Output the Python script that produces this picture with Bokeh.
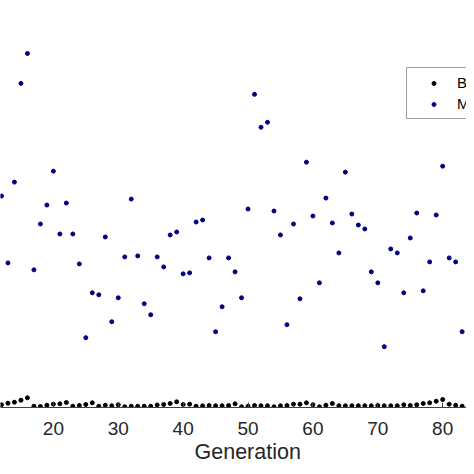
from bokeh.plotting import figure
from bokeh.models import Range1d, LinearAxis, FixedTicker, Legend, LegendItem, Title
from bokeh.embed import file_html
from bokeh.resources import INLINE

# data (one point per generation)
generation = list(range(12, 84))
best = [0.027, 0.043, 0.053, 0.073, 0.097, 0.013, 0.010, 0.023, 0.033, 0.037,
        0.050, 0.013, 0.020, 0.030, 0.047, 0.013, 0.023, 0.017, 0.027, 0.007,
        0.013, 0.013, 0.013, 0.013, 0.025, 0.030, 0.040, 0.057, 0.030, 0.033,
        0.013, 0.017, 0.020, 0.017, 0.017, 0.020, 0.037, 0.007, 0.013, 0.020,
        0.017, 0.017, 0.007, 0.017, 0.020, 0.033, 0.033, 0.047, 0.027, 0.007,
        0.023, 0.040, 0.017, 0.017, 0.017, 0.017, 0.017, 0.017, 0.020, 0.017,
        0.017, 0.017, 0.027, 0.020, 0.027, 0.040, 0.047, 0.063, 0.080, 0.033,
        0.023, 0.013]
mean = [2.12, 1.45, 2.26, 3.25, 3.55, 1.38, 1.84, 2.03, 2.37, 1.74,
        2.05, 1.74, 1.44, 0.70, 1.15, 1.13, 1.71, 0.86, 1.10, 1.51,
        2.09, 1.52, 1.04, 0.93, 1.51, 1.41, 1.73, 1.76, 1.34, 1.35,
        1.86, 1.88, 1.50, 0.76, 1.01, 1.50, 1.36, 1.10, 1.99, 3.14,
        2.81, 2.86, 1.97, 1.73, 0.83, 1.84, 1.09, 2.46, 1.92, 1.25,
        2.10, 1.85, 1.55, 2.36, 1.94, 1.83, 1.79, 1.36, 1.25, 0.61,
        1.59, 1.55, 1.15, 1.70, 1.95, 1.17, 1.46, 1.93, 2.42, 1.50,
        1.46, 0.76]
x_ticks = [10, 20, 30, 40, 50, 60, 70, 80, 90]

FONT = "Liberation Sans"

p = figure(width=466, height=466, output_backend="svg", toolbar_location=None,
           x_range=Range1d(11.85, 83.67), y_range=Range1d(0, 4.081),
           x_axis_location=None, y_axis_location=None,
           min_border_left=0, min_border_right=0, min_border_top=0,
           min_border_bottom=59)
p.grid.grid_line_color = None
p.outline_line_color = None
p.background_fill_color = "white"
p.border_fill_color = "white"

xaxis = LinearAxis(ticker=FixedTicker(ticks=x_ticks))
xaxis.axis_line_color = "#404040"
xaxis.major_tick_line_color = "#404040"
xaxis.major_tick_in = 5
xaxis.major_tick_out = 0
xaxis.minor_tick_line_color = None
xaxis.major_label_text_font = FONT
xaxis.major_label_text_font_size = "19px"
xaxis.major_label_text_color = "#262626"
xaxis.major_label_standoff = 14
p.add_layout(xaxis, "below")

# x label sits a bit right of the frame centre, so use a left-aligned title with an offset
xlabel = Title(text="Generation", align="left", offset=194, standoff=0,
               vertical_align="bottom", text_font=FONT, text_font_size="21.5px",
               text_font_style="normal", text_color="#262626")
p.add_layout(xlabel, "below")

r_best = p.scatter(generation, best, size=4, color="black")
r_mean = p.scatter(generation, mean, size=4, color="#000080")

legend = Legend(items=[LegendItem(label="Best", renderers=[r_best]),
                       LegendItem(label="Mean", renderers=[r_mean])],
                location=(406, 288), padding=4, spacing=0, margin=0,
                glyph_width=45, glyph_height=10, label_height=21,
                label_standoff=1, label_text_font=FONT,
                label_text_font_size="15px", label_text_color="black",
                border_line_color="#404040", border_line_width=1,
                background_fill_color="white", background_fill_alpha=1)
p.add_layout(legend)

open("out.html", "w").write(file_html(p, INLINE))
